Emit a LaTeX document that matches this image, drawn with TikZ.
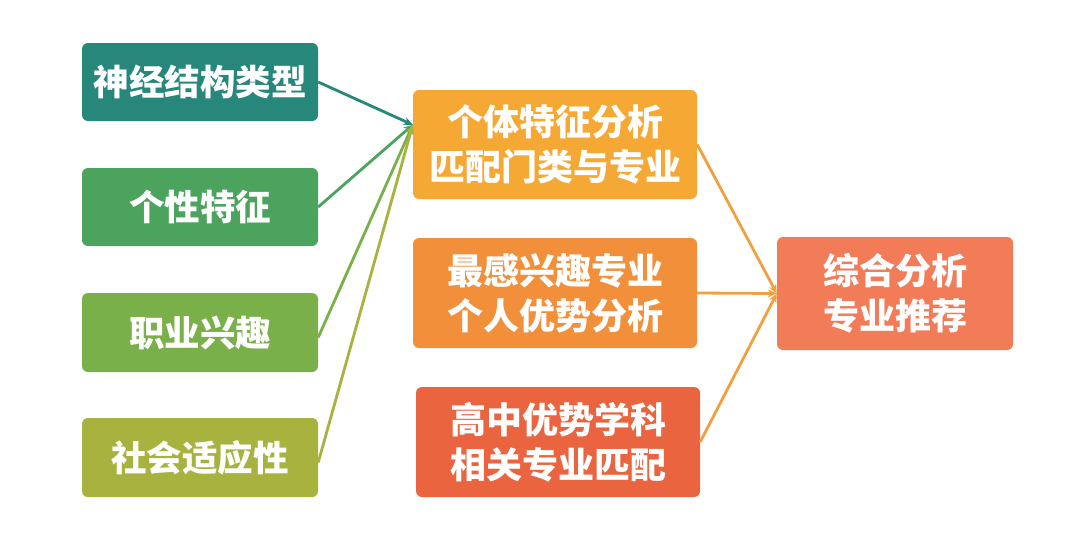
\documentclass[tikz,border=0pt]{standalone}
\usepackage{fontspec}
\newfontfamily\cjk{Noto Sans CJK SC}
\usetikzlibrary{arrows.meta,calc}
\definecolor{cA}{HTML}{27877B}
\definecolor{cB}{HTML}{4BA35E}
\definecolor{cC}{HTML}{7AB04A}
\definecolor{cD}{HTML}{A8B23F}
\definecolor{mA}{HTML}{F5A833}
\definecolor{mB}{HTML}{F28F3B}
\definecolor{mC}{HTML}{E9643F}
\definecolor{rR}{HTML}{F27B58}
\definecolor{lo}{HTML}{F2A03E}
\begin{document}
\begin{tikzpicture}[x=1pt,y=-1pt,
  box/.style={draw=none, fill=#1, rounded corners=6pt, text=white,
    font=\cjk\bfseries\fontsize{36}{45}\selectfont, align=center, inner sep=0pt},
  lbox/.style={box=#1, font=\cjk\bfseries\fontsize{35.5}{45}\selectfont},
  conn/.style={draw=#1, line width=2.8pt, -{Stealth[length=9pt,width=8pt]}}]
\useasboundingbox[fill=white] (0,0) rectangle (1080,541);
\node[lbox=cA, minimum width=236pt, minimum height=78pt] (n1) at (200,82) {神经结构类型};
\node[lbox=cB, minimum width=236pt, minimum height=78pt] (n2) at (200,207) {个性特征};
\node[lbox=cC, minimum width=236pt, minimum height=79pt] (n3) at (200,332.5) {职业兴趣};
\node[lbox=cD, minimum width=236pt, minimum height=79pt] (n4) at (200,457.5) {社会适应性};
\node[box=mA, minimum width=284pt, minimum height=109pt] (a) at (555,144.5) {个体特征分析\\匹配门类与专业};
\node[box=mB, minimum width=284pt, minimum height=110pt] (b) at (555,293) {最感兴趣专业\\个人优势分析};
\node[box=mC, minimum width=284pt, minimum height=110pt] (c) at (558,442) {高中优势学科\\相关专业匹配};
\node[box=rR, minimum width=236pt, minimum height=113pt] (r) at (895,293.5) {综合分析\\专业推荐};
\coordinate (inA) at ($(a.north west)!0.32!(a.south west)$);
\draw[conn=cA] (n1.east) -- (inA);
\draw[conn=cB] (n2.east) -- (inA);
\draw[conn=cC] ([yshift=-5pt]n3.east) -- (inA);
\draw[conn=cD] ([yshift=-5pt]n4.east) -- (inA);
\draw[conn=lo] (a.east) -- (r.west);
\draw[conn=lo] (b.east) -- (r.west);
\draw[conn=lo] (c.east) -- (r.west);
\end{tikzpicture}
\end{document}
